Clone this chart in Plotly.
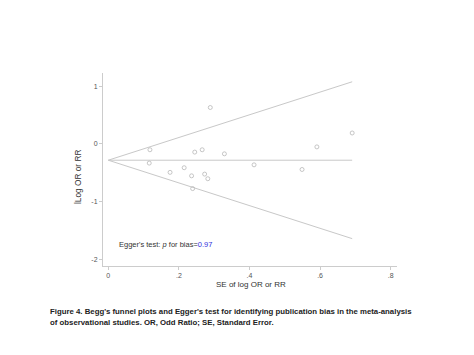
import plotly.graph_objects as go

# Study-level data
se_vals = [0.118, 0.116, 0.175, 0.215, 0.236, 0.239, 0.245, 0.266, 0.273, 0.282,
           0.289, 0.329, 0.413, 0.549, 0.591, 0.691]
log_es = [-0.10, -0.33, -0.49, -0.41, -0.55, -0.77, -0.14, -0.10, -0.52, -0.60,
          0.63, -0.17, -0.36, -0.44, -0.05, 0.19]
pooled = -0.28
z = 1.96
x_ticks = [0, 0.2, 0.4, 0.6, 0.8]
x_tick_labels = ["0", ".2", ".4", ".6", ".8"]
y_ticks = [1, 0, -1, -2]
y_tick_labels = ["1", "0", "-1", "-2"]
egger_p = "0.97"

max_se = max(se_vals)
line_col = "#c8c8c8"

fig = go.Figure()
fig.add_trace(go.Scatter(x=[0, max_se], y=[pooled, pooled], mode="lines",
                         line=dict(color=line_col, width=1), hoverinfo="skip"))
fig.add_trace(go.Scatter(x=[0, max_se], y=[pooled, pooled + z * max_se], mode="lines",
                         line=dict(color=line_col, width=1), hoverinfo="skip"))
fig.add_trace(go.Scatter(x=[0, max_se], y=[pooled, pooled - z * max_se], mode="lines",
                         line=dict(color=line_col, width=1), hoverinfo="skip"))
fig.add_trace(go.Scatter(x=se_vals, y=log_es, mode="markers",
                         marker=dict(symbol="circle-open", size=4,
                                     color="#b8b8b8", line=dict(width=0.8))))

font_fam = "Liberation Sans, Arial, sans-serif"
W, H = 474, 355
l, r, t, b = 103, 77, 73, 89
pw, ph = W - l - r, H - t - b


def px_to_paper(px, py):
    return (px - l) / pw, (H - b - py) / ph


def pix_ann(px, py, **kw):
    x, y = px_to_paper(px, py)
    d = dict(x=x, y=y, xref="paper", yref="paper", showarrow=False,
             xanchor="center", yanchor="middle")
    d.update(kw)
    return d


fig.update_layout(
    width=W, height=H,
    margin=dict(l=l, r=r, t=t, b=b),
    paper_bgcolor="white", plot_bgcolor="white",
    showlegend=False,
    font=dict(family=font_fam, size=7, color="#444444"),
    xaxis=dict(range=[-0.015, 0.818], tickvals=x_ticks, ticktext=x_tick_labels,
               showgrid=False, zeroline=False, showline=True, linecolor="#cccccc",
               linewidth=1, ticks="outside", ticklen=3, tickcolor="#cccccc",
               tickfont=dict(size=7, color="#555555")),
    yaxis=dict(range=[-2.107, 1.226], tickvals=y_ticks, ticktext=y_tick_labels,
               showgrid=False, zeroline=False, showline=True, linecolor="#cccccc",
               linewidth=1, ticks="outside", ticklen=3, tickcolor="#cccccc",
               tickfont=dict(size=7, color="#555555")),
    annotations=[
        dict(x=0.024, y=-1.73, xref="x", yref="y", xanchor="left", yanchor="middle",
             showarrow=False, font=dict(size=7.5, color="#333333"),
             text="Egger's test: <i>p</i> for bias=<span style='color:#3333dd'>" + egger_p + "</span>"),
        pix_ann(251, 284, text="SE of log OR or RR", font=dict(size=8, color="#333333")),
        pix_ann(78, 177, textangle=-90, text="lLog OR or RR",
                font=dict(size=8.3, color="#333333")),
        pix_ann(48, 311, xanchor="left",
                text="<b>Figure 4. Begg's funnel plots and Egger's test for identifying publication bias in the meta-analysis</b>",
                font=dict(size=7.8, color="#222222")),
        pix_ann(48, 322, xanchor="left",
                text="<b>of observational studies. OR, Odd Ratio; SE, Standard Error.</b>",
                font=dict(size=7.8, color="#222222")),
    ],
)

fig.write_html("out.html", config={"displayModeBar": False},
               post_script="document.body.style.margin='0';")
